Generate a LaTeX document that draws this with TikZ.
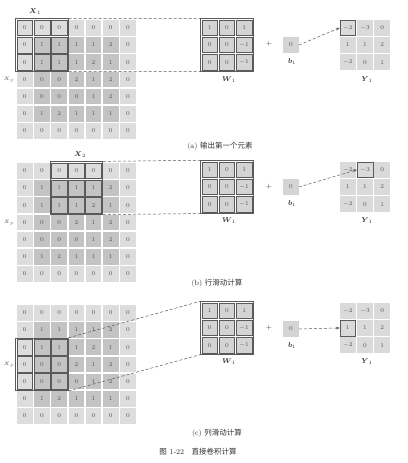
\documentclass[tikz,border=0pt]{standalone}
\usepackage{amsmath}
\usepackage{fontspec}
\newfontfamily\cjk{Noto Sans CJK SC}
\usetikzlibrary{fit,arrows.meta}
\definecolor{lightc}{HTML}{DDDDDD}
\definecolor{darkc}{HTML}{C3C3C3}
\definecolor{matc}{HTML}{D4D4D4}
\definecolor{ymat}{HTML}{DADADA}
\definecolor{txt}{HTML}{555555}
\definecolor{edge}{HTML}{5A5A5A}
\tikzset{
  cell/.style={minimum size=15.5pt, inner sep=0pt, font=\fontsize{6.5}{7}\selectfont, text=txt},
  wincell/.style={draw=edge, line width=0.5pt},
  winbox/.style={draw=edge, line width=0.9pt, inner sep=1pt},
  lab/.style={font=\fontsize{7}{8}\selectfont, text=black!80},
  xplab/.style={font=\fontsize{5.5}{6}\selectfont, text=black!50, inner sep=0pt},
  captext/.style={font=\fontsize{7.5}{9}\selectfont, text=black!80},
  dline/.style={draw=edge, line width=0.5pt, dash pattern=on 3pt off 2pt},
  darrow/.style={dline, -{Stealth[length=4pt,width=3pt]}},
}
\newcommand\drawgrid[3]{%
  \foreach \r/\rowlist in {0/{0,0,0,0,0,0,0},1/{0,1,1,1,1,2,0},2/{0,1,1,1,2,1,0},3/{0,0,0,2,1,2,0},4/{0,0,0,0,1,2,0},5/{0,1,2,1,1,1,0},6/{0,0,0,0,0,0,0}}{
    \foreach \v [count=\c from 0] in \rowlist {
      \def\cellfill{lightc}
      \ifnum\r>0 \ifnum\r<6 \ifnum\c>0 \ifnum\c<6 \def\cellfill{darkc}\fi\fi\fi\fi
      \node[cell, fill=\cellfill] (#1-\r-\c) at ({#2+\c*17.2+7.75},{#3+\r*17.2+7.75}) {$\v$};
    }
  }
}
\newcommand\drawW[3]{%
  \foreach \r/\rowlist in {0/{1,0,1},1/{0,0,-1},2/{0,0,-1}}{
    \foreach \v [count=\c from 0] in \rowlist {
      \node[cell, fill=matc, draw=edge, line width=0.5pt] (#1-\r-\c) at ({#2+\c*17.2+7.75},{#3+\r*17.2+7.75}) {$\v$};
    }
  }
  \node[winbox, fit=(#1-0-0)(#1-2-2)] (#1) {};
}
\newcommand\drawY[3]{%
  \foreach \r/\rowlist in {0/{-2,-3,0},1/{1,1,2},2/{-2,0,1}}{
    \foreach \v [count=\c from 0] in \rowlist {
      \node[cell, fill=ymat] (#1-\r-\c) at ({#2+\c*17.2+7.75},{#3+\r*17.2+7.75}) {$\v$};
    }
  }
}
\newcommand\drawwin[3]{% prefix, row0, col0
  \foreach \dr in {0,1,2}{\foreach \dc in {0,1,2}{
    \pgfmathtruncatemacro\rr{#2+\dr}\pgfmathtruncatemacro\cc{#3+\dc}
    \draw[wincell] (#1-\rr-\cc.north west) rectangle (#1-\rr-\cc.south east);
  }}
}
\begin{document}
\begin{tikzpicture}[x=1pt,y=-1pt]
\useasboundingbox[fill=white] (0,0) rectangle (407,463);

% ---------- (a) ----------
\drawgrid{ga}{17}{20}
\drawwin{ga}{0}{0}
\node[winbox, fit=(ga-0-0)(ga-2-2)] (gaw) {};
\node[lab] (xa) at (35,12) {$\boldsymbol{X}_1$};
\node[xplab] (xpa) at (ga-3-0.west -| 9,0) {$\boldsymbol{X}_p$};
\drawW{wa}{202}{20}
\node[lab] (wla) at (229,80) {$\boldsymbol{W}_1$};
\node[lab] (pa) at (269,44) {$+$};
\node[cell, fill=matc] (ba) at (291,45) {$0$};
\node[lab] (bla) at (292,62) {$\boldsymbol{b}_1$};
\drawY{ya}{340}{20}
\draw[wincell] (ya-0-0.north west) rectangle (ya-0-0.south east);
\node[lab] (yla) at (367,80) {$\boldsymbol{Y}_1$};
\draw[dline] (gaw.north east) -- (wa.north west);
\draw[dline] (gaw.south east) -- (wa.south west);
\draw[darrow] (ba.east) -- (ya-0-0.west);
\node[captext] (ca) at (220,146) {(a) {\cjk 输出第一个元素}};

% ---------- (b) ----------
\drawgrid{gb}{17}{163}
\drawwin{gb}{0}{2}
\node[winbox, fit=(gb-0-2)(gb-2-4)] (gbw) {};
\node[lab] (xb) at (80,155) {$\boldsymbol{X}_2$};
\node[xplab] (xpb) at (gb-3-0.west -| 9,0) {$\boldsymbol{X}_p$};
\drawW{wb}{202}{162}
\node[lab] (wlb) at (229,221) {$\boldsymbol{W}_1$};
\node[lab] (pb) at (269,187) {$+$};
\node[cell, fill=matc] (bb) at (291,187) {$0$};
\node[lab] (blb) at (292,204) {$\boldsymbol{b}_1$};
\drawY{yb}{340}{162}
\draw[wincell] (yb-0-1.north west) rectangle (yb-0-1.south east);
\node[lab] (ylb) at (367,221) {$\boldsymbol{Y}_1$};
\draw[dline] (gbw.north east) -- (wb.north west);
\draw[dline] (gbw.south east) -- (wb.south west);
\draw[darrow] (bb.east) -- (yb-0-1.west);
\node[captext] (cb) at (217,283) {(b) {\cjk 行滑动计算}};

% ---------- (c) ----------
\drawgrid{gc}{17}{305}
\drawwin{gc}{2}{0}
\node[winbox, fit=(gc-2-0)(gc-4-2)] (gcw) {};
\node[xplab] (xpc) at (gc-3-0.west -| 9,0) {$\boldsymbol{X}_p$};
\drawW{wc}{202}{303}
\node[lab] (wlc) at (229,362) {$\boldsymbol{W}_1$};
\node[lab] (pc) at (269,328) {$+$};
\node[cell, fill=matc] (bc) at (291,329) {$0$};
\node[lab] (blc) at (292,346) {$\boldsymbol{b}_1$};
\drawY{yc}{340}{303}
\draw[wincell] (yc-1-0.north west) rectangle (yc-1-0.south east);
\node[lab] (ylc) at (367,362) {$\boldsymbol{Y}_1$};
\draw[dline] (gcw.north east) -- (wc.north west);
\draw[dline] (gcw.south east) -- (wc.south west);
\draw[darrow] (bc.east) -- (yc-1-0.west);
\node[captext] (cc) at (217,433) {(c) {\cjk 列滑动计算}};

\node[captext] (fig) at (198,452) {{\cjk 图} 1-22\quad{\cjk 直接卷积计算}};
\end{tikzpicture}
\end{document}
